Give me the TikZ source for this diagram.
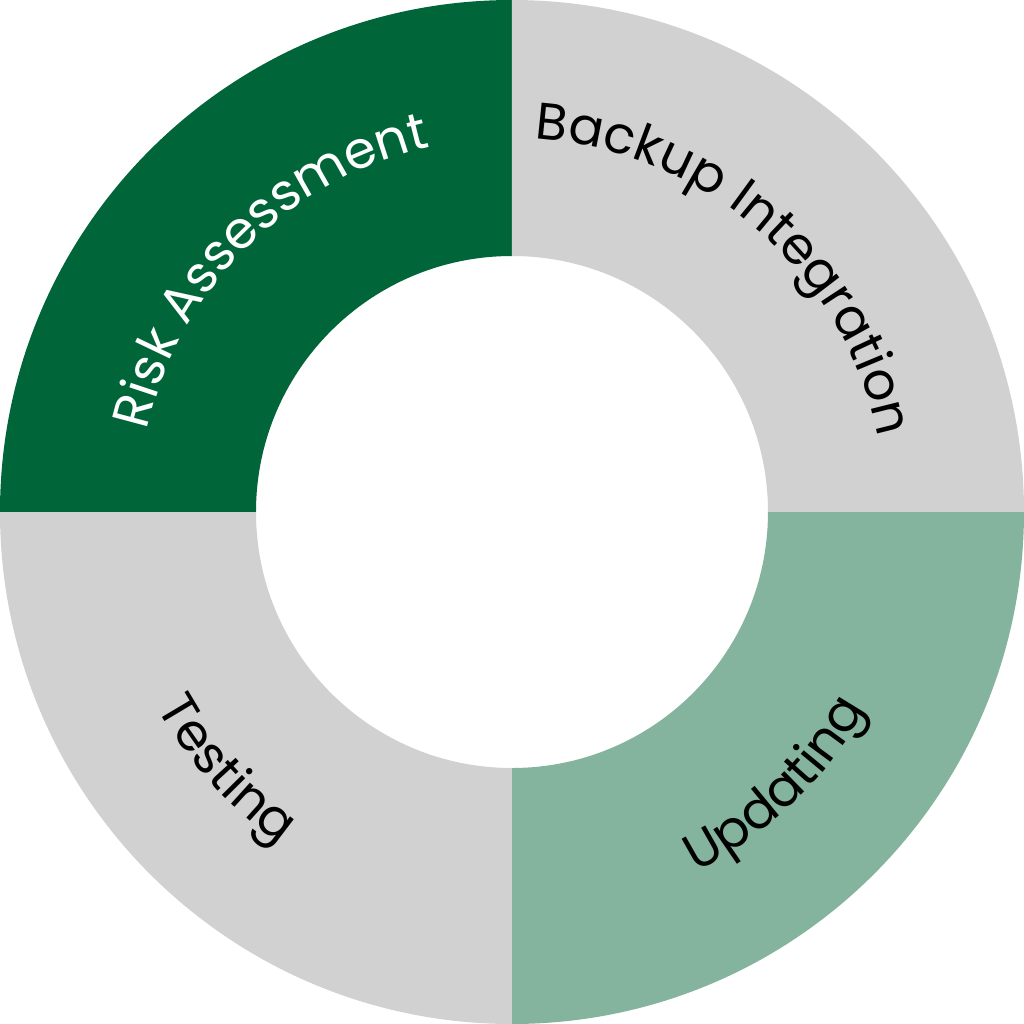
\documentclass[tikz,border=0pt]{standalone}
\usepackage{fontspec}
\setmainfont{Poppins}
\usetikzlibrary{decorations.text}
\definecolor{ringDark}{RGB}{0,102,58}
\definecolor{ringLight}{RGB}{132,179,158}
\definecolor{ringGrey}{RGB}{209,209,209}
\newcommand{\lblfont}{\fontsize{14.7}{17}\selectfont}
\newcommand{\ringseg}[3]{%
  \fill[#1] (#2:5.12) arc[start angle=#2, end angle=#3, radius=5.12]
    -- (#3:2.56) arc[start angle=#3, end angle=#2, radius=2.56] -- cycle;}

\begin{document}
\begin{tikzpicture}[
        lbl/.style={decorate, decoration={text along path, text align=center, text={#1}}}]
    \useasboundingbox (-5.12,-5.12) rectangle (5.12,5.12);
    \coordinate (c) at (0,0);

    % ring
    \ringseg{ringDark}{90}{180}
    \ringseg{ringGrey}{0}{90}
    \ringseg{ringLight}{270}{360}
    \ringseg{ringGrey}{180}{270}

    % labels, top half clockwise, bottom half counterclockwise
    \path[lbl={|\lblfont\color{white}|Risk Assessment}] (185:3.74) arc[start angle=185, end angle=85, radius=3.74];
    \path[lbl={|\lblfont\color{black}|Backup Integration}] (99:3.74) arc[start angle=99, end angle=-1, radius=3.74];
    \path[lbl={|\lblfont\color{black}|Testing}] (172:4.05) arc[start angle=172, end angle=272, radius=4.05];
    \path[lbl={|\lblfont\color{black}|Updating}] (264:4.05) arc[start angle=264, end angle=364, radius=4.05];
\end{tikzpicture}
\end{document}
